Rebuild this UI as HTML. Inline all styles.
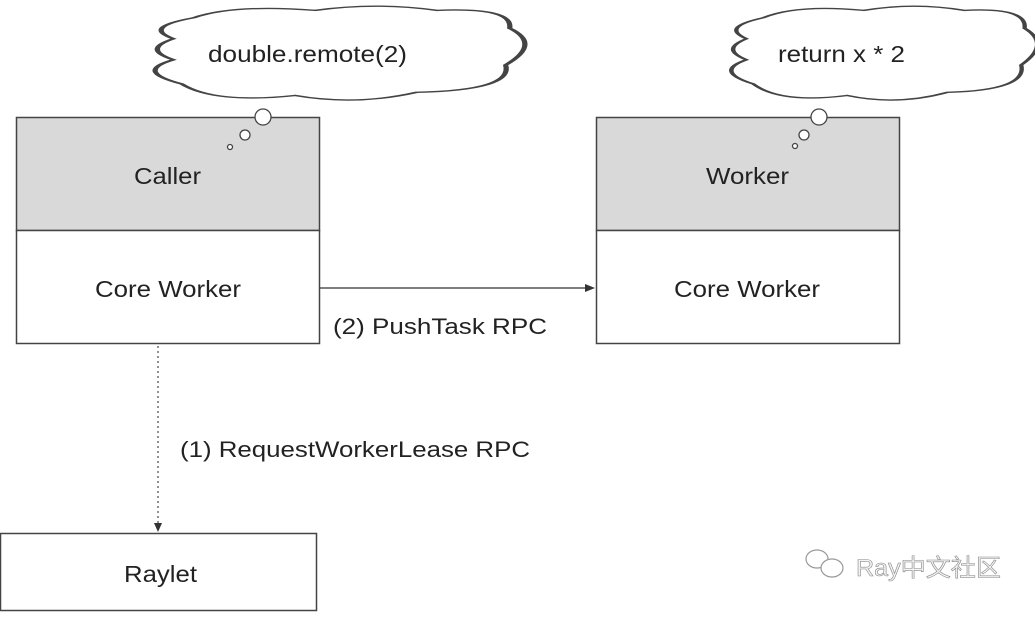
<!DOCTYPE html>
<html><head><style>
body{margin:0;background:#fff;width:1035px;height:612px;overflow:hidden;font-family:"Liberation Sans","Noto Sans CJK SC",sans-serif;}
</style></head><body>
<svg width="1035" height="612" xmlns="http://www.w3.org/2000/svg" font-family="Liberation Sans, Noto Sans CJK SC, sans-serif">
<defs>
<path id="cl" d="M10,35 Q2,24 15,15 Q25,2 45,8 Q60,0 75,8 Q94,5 93,25 Q101,40 92,60 Q94,84 70,86 Q55,99 40,89 Q20,97 12,78 Q0,66 10,55 Q2,45 10,35 Z"/>
</defs>
<g fill="#fff" stroke="#444" stroke-width="1.3">
<use href="#cl" transform="translate(133,2) scale(4.05,1.05)" style="vector-effect:non-scaling-stroke"/>
<use href="#cl" transform="translate(713,2) scale(3.35,1.05)" style="vector-effect:non-scaling-stroke"/>
</g>
<text x="208" y="62" font-size="23" textLength="199" lengthAdjust="spacingAndGlyphs" fill="#222">double.remote(2)</text>
<text x="778" y="62" font-size="23" textLength="127" lengthAdjust="spacingAndGlyphs" fill="#222">return x * 2</text>
<rect x="16.5" y="117.5" width="303" height="113" fill="#d9d9d9" stroke="#444" stroke-width="1.5"/>
<rect x="16.5" y="230.5" width="303" height="113" fill="#fff" stroke="#444" stroke-width="1.5"/>
<rect x="596.5" y="117.5" width="303" height="113" fill="#d9d9d9" stroke="#444" stroke-width="1.5"/>
<rect x="596.5" y="230.5" width="303" height="113" fill="#fff" stroke="#444" stroke-width="1.5"/>
<rect x="0.5" y="533.5" width="316" height="77" fill="#fff" stroke="#444" stroke-width="1.5"/>
<g fill="#fff" stroke="#444" stroke-width="1.3">
<circle cx="263" cy="117" r="8"/><circle cx="245" cy="135" r="5"/><circle cx="230" cy="147" r="2.5"/>
<circle cx="819" cy="117" r="8"/><circle cx="804" cy="135" r="5"/><circle cx="795" cy="146" r="2.5"/>
</g>
<g font-size="23" fill="#222" lengthAdjust="spacingAndGlyphs">
<text x="134" y="184" textLength="67" lengthAdjust="spacingAndGlyphs">Caller</text>
<text x="95" y="297" textLength="146" lengthAdjust="spacingAndGlyphs">Core Worker</text>
<text x="706" y="184" textLength="83" lengthAdjust="spacingAndGlyphs">Worker</text>
<text x="674" y="297" textLength="146" lengthAdjust="spacingAndGlyphs">Core Worker</text>
<text x="124" y="582" textLength="73" lengthAdjust="spacingAndGlyphs">Raylet</text>
</g>
<line x1="320" y1="288" x2="587" y2="288" stroke="#333" stroke-width="1.3"/>
<polygon points="595,288 585,284 585,292" fill="#333"/>
<text x="333" y="334" font-size="22" textLength="214" lengthAdjust="spacingAndGlyphs" fill="#222">(2) PushTask RPC</text>
<line x1="158" y1="346" x2="158" y2="524" stroke="#555" stroke-width="1.3" stroke-dasharray="2,3"/>
<polygon points="158,532 154,523 162,523" fill="#333"/>
<text x="180" y="457" font-size="22" textLength="350" lengthAdjust="spacingAndGlyphs" fill="#222">(1) RequestWorkerLease RPC</text>
<g fill="#fff" stroke="#999" stroke-width="1.2">
<ellipse cx="817" cy="559" rx="11" ry="9"/><ellipse cx="832" cy="568" rx="11" ry="9"/>
</g>
<text x="856" y="576" font-size="24" textLength="145" lengthAdjust="spacingAndGlyphs" fill="#f4f4f4" stroke="#888" stroke-width="0.6">Ray中文社区</text>
</svg>
</body></html>
